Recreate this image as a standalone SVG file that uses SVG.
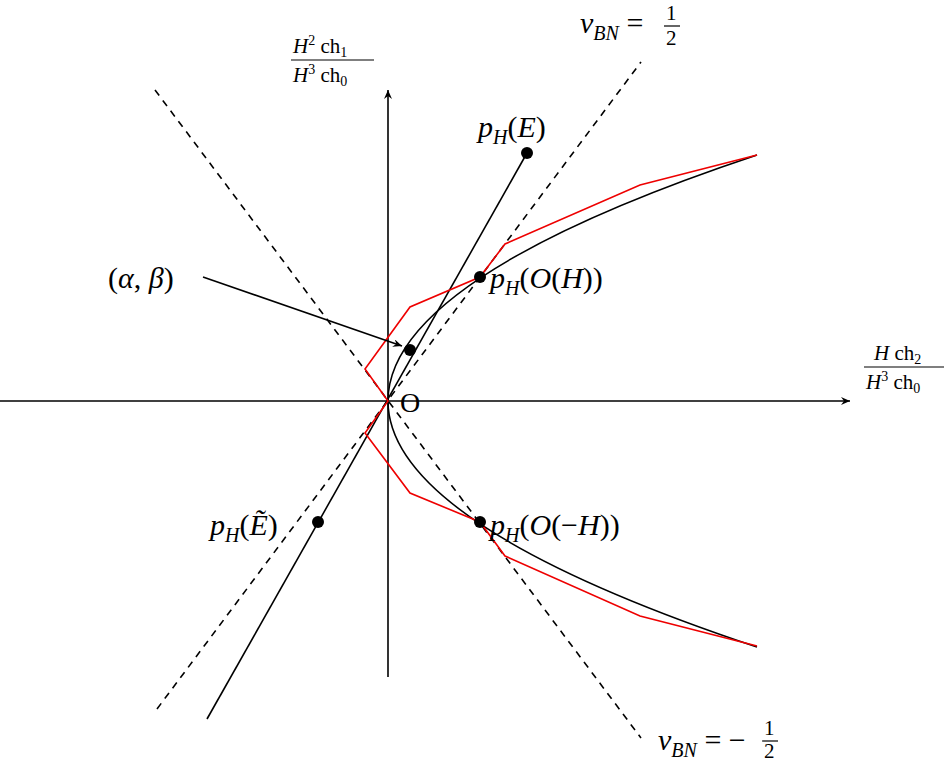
<svg xmlns="http://www.w3.org/2000/svg" width="944" height="766" viewBox="0 0 944 766">
<style>
text{font-family:"Liberation Serif","DejaVu Serif",serif;font-size:30px;fill:#000}
.i{font-style:italic}
.s{font-size:20px}
.f{font-size:21px}
.ln{stroke:#000;stroke-width:1.6;fill:none}
.d{stroke-dasharray:7 6}
.r{stroke:#e00;stroke-width:1.6;fill:none}
</style>
<defs>
<marker id="a" markerWidth="10" markerHeight="8" refX="9" refY="4" orient="auto" markerUnits="userSpaceOnUse">
<path d="M0,0 L9,4 L0,8 L3,4 Z" fill="#000"/>
</marker>
</defs>
<rect width="944" height="766" fill="#fff"/>
<g id="connectors">
<line class="ln" x1="0" y1="401" x2="850" y2="401" marker-end="url(#a)"/>
<line class="ln" x1="388" y1="677" x2="388" y2="90" marker-end="url(#a)"/>
<line class="ln d" x1="157" y1="709" x2="641" y2="62"/>
<line class="ln d" x1="155" y1="90" x2="641" y2="738"/>
<line class="ln" x1="207" y1="719" x2="527" y2="153"/>
<path class="ln" d="M757,155 Q19,401 757,647"/>
<polyline class="r" points="757,155 640,185 505,244 480,277 410,307 365,369 388,401 365,433 410,493 480,522 505,556 640,616 757,646"/>
<line class="ln" x1="203" y1="277" x2="402" y2="346" marker-end="url(#a)"/>
</g>
<g id="points">
<circle cx="527" cy="153" r="6"/>
<circle cx="480" cy="277" r="6"/>
<circle cx="410" cy="350" r="6"/>
<circle cx="480" cy="522" r="6"/>
<circle cx="318" cy="522" r="6"/>
</g>
<g id="labels">
<text x="478" y="137"><tspan class="i">p</tspan><tspan class="i s" dy="7">H</tspan><tspan dy="-7">(</tspan><tspan class="i">E</tspan>)</text>
<text x="490" y="288"><tspan class="i">p</tspan><tspan class="i s" dy="7">H</tspan><tspan dy="-7">(</tspan><tspan class="i">O</tspan>(<tspan class="i">H</tspan>))</text>
<text x="108" y="288">(<tspan class="i">α</tspan>, <tspan class="i">β</tspan>)</text>
<text x="210" y="535"><tspan class="i">p</tspan><tspan class="i s" dy="7">H</tspan><tspan dy="-7">(</tspan><tspan class="i">Ẽ</tspan>)</text>
<text x="490" y="535"><tspan class="i">p</tspan><tspan class="i s" dy="7">H</tspan><tspan dy="-7">(</tspan><tspan class="i">O</tspan>(−<tspan class="i">H</tspan>))</text>
<text x="400" y="412" style="font-family:'Liberation Serif',serif;font-size:28px">O</text>
<text x="580" y="33"><tspan class="i">ν</tspan><tspan class="i s" dy="7">BN</tspan><tspan dy="-7"> = </tspan></text>
<text x="666" y="20" class="f">1</text><line x1="664" y1="26" x2="680" y2="26" stroke="#000" stroke-width="1.2"/><text x="666" y="45" class="f">2</text>
<text x="658" y="750"><tspan class="i">ν</tspan><tspan class="i s" dy="7">BN</tspan><tspan dy="-7"> = −</tspan></text>
<text x="764" y="735" class="f">1</text><line x1="762" y1="741" x2="778" y2="741" stroke="#000" stroke-width="1.2"/><text x="764" y="758" class="f">2</text>
<text x="293" y="53" class="f"><tspan class="i">H</tspan><tspan dy="-8" font-size="14">2</tspan><tspan dy="8"> ch</tspan><tspan dy="4" font-size="14">1</tspan></text>
<line x1="291" y1="60" x2="374" y2="60" stroke="#000" stroke-width="1.2"/>
<text x="293" y="82" class="f"><tspan class="i">H</tspan><tspan dy="-8" font-size="14">3</tspan><tspan dy="8"> ch</tspan><tspan dy="4" font-size="14">0</tspan></text>
<text x="874" y="360" class="f"><tspan class="i">H</tspan> ch<tspan dy="4" font-size="14">2</tspan></text>
<line x1="864" y1="367" x2="944" y2="367" stroke="#000" stroke-width="1.2"/>
<text x="866" y="389" class="f"><tspan class="i">H</tspan><tspan dy="-8" font-size="14">3</tspan><tspan dy="8"> ch</tspan><tspan dy="4" font-size="14">0</tspan></text>
</g>
</svg>
